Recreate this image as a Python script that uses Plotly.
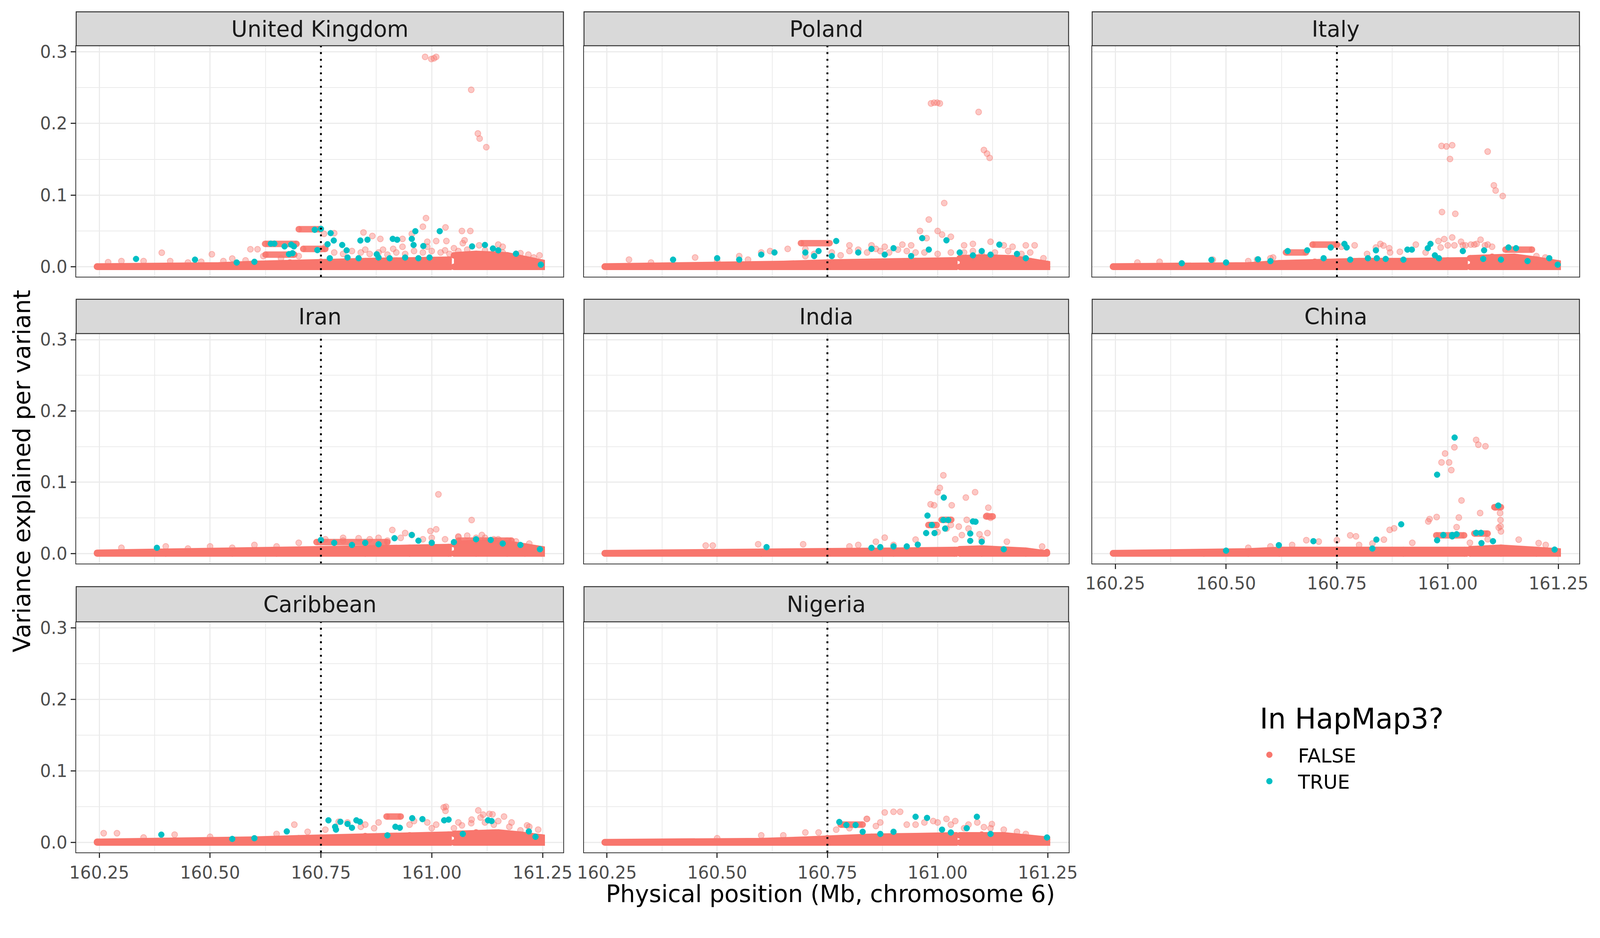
import plotly.graph_objects as go

FONT = "DejaVu Sans"
SALMON = "#F8766D"
TEAL = "#00BFC4"

PANELS = ["United Kingdom", "Poland", "Italy", "Iran", "India", "China", "Caribbean", "Nigeria"]
X_TICKS = [160.25, 160.50, 160.75, 161.00, 161.25]
X_TICK_TEXT = ["160.25", "160.50", "160.75", "161.00", "161.25"]
X_MINOR = [160.375, 160.625, 160.875, 161.125]
Y_TICKS = [0.0, 0.1, 0.2, 0.3]
Y_MINOR = [0.05, 0.15, 0.25]
LEAD_SNP = 160.75
BAND_BASE = 0.0

# ---- United Kingdom ----
uk_band_x = [160.245, 160.40, 160.52, 160.60, 160.68, 160.75, 160.85, 160.95, 161.038, None, 161.050, 161.10, 161.17, 161.21, 161.248]
uk_band_top = [0.0005, 0.001, 0.002, 0.004, 0.006, 0.007, 0.008, 0.009, 0.010, None, 0.016, 0.018, 0.016, 0.010, 0.006]
uk_blocks = [(160.700, 160.748, 0.0525), (160.624, 160.695, 0.032), (160.710, 160.760, 0.025), (160.625, 160.690, 0.017)]
uk_false_x = [160.985, 160.999, 161.005, 161.010, 161.089, 161.104, 161.108, 161.123, 160.987, 160.980, 161.031, 161.068,
              161.087, 160.757, 160.780, 160.846, 160.866, 160.884, 160.934, 160.955, 161.070, 161.074, 161.033, 161.010,
              160.990, 161.150, 161.160, 161.107, 160.934, 160.913, 160.890, 160.850, 160.760, 160.607, 160.591, 160.504,
              160.391, 160.550, 160.620, 160.530, 160.270, 160.300, 160.350, 160.410, 161.218, 161.243, 161.200, 161.140,
              161.050, 161.030, 160.990, 160.780, 160.800, 160.820, 160.840, 160.860, 160.880, 160.900, 160.920, 160.940,
              160.960, 160.980, 161.000, 161.020, 161.040, 160.700, 160.660, 160.580, 160.450, 160.480, 161.060, 161.080,
              161.120, 161.160, 161.190, 161.230]
uk_false_y = [0.293, 0.290, 0.291, 0.293, 0.247, 0.186, 0.179, 0.167, 0.068, 0.056, 0.055, 0.050,
              0.050, 0.046, 0.047, 0.048, 0.043, 0.039, 0.039, 0.046, 0.033, 0.037, 0.036, 0.036,
              0.035, 0.031, 0.028, 0.030, 0.028, 0.025, 0.024, 0.024, 0.028, 0.0245, 0.0245, 0.0175,
              0.0197, 0.0115, 0.015, 0.008, 0.0065, 0.008, 0.008, 0.008, 0.017, 0.016, 0.019, 0.021,
              0.026, 0.023, 0.028, 0.020, 0.018, 0.022, 0.020, 0.018, 0.020, 0.017, 0.020, 0.018,
              0.022, 0.020, 0.022, 0.020, 0.018, 0.015, 0.012, 0.009, 0.006, 0.007, 0.022, 0.024,
              0.023, 0.020, 0.017, 0.013]
uk_true_x = [160.333, 160.466, 160.637, 160.645, 160.668, 160.683, 160.689, 160.678, 160.686, 160.742, 160.736, 160.750,
             160.772, 160.779, 160.798, 160.808, 160.839, 160.855, 160.912, 160.922, 160.955, 160.963, 160.959, 160.981,
             161.018, 161.091, 161.120, 161.138, 161.150, 161.190, 161.246, 160.765, 160.876, 160.770, 160.810, 160.835,
             160.880, 160.905, 160.940, 160.970, 160.995, 160.560, 160.600]
uk_true_y = [0.011, 0.010, 0.0323, 0.0323, 0.0285, 0.031, 0.0285, 0.0177, 0.019, 0.0233, 0.0517, 0.053,
             0.047, 0.0367, 0.0305, 0.023, 0.0367, 0.0378, 0.039, 0.0378, 0.039, 0.0497, 0.0305, 0.029,
             0.0497, 0.0285, 0.0305, 0.0256, 0.023, 0.0183, 0.003, 0.0315, 0.0175, 0.012, 0.013, 0.012,
             0.013, 0.012, 0.013, 0.012, 0.013, 0.006, 0.007]

# ---- Poland ----
pl_band_x = [160.245, 160.40, 160.55, 160.65, 160.75, 160.85, 160.95, 161.038, None, 161.050, 161.10, 161.17, 161.21, 161.248]
pl_band_top = [0.0005, 0.001, 0.002, 0.004, 0.006, 0.007, 0.008, 0.009, None, 0.012, 0.013, 0.012, 0.008, 0.004]
pl_blocks = [(160.690, 160.755, 0.033)]
pl_false_x = [160.985, 160.992, 160.999, 161.005, 161.093, 161.105, 161.112, 161.118, 161.015, 160.980, 161.000, 160.960,
              161.010, 160.975, 161.030, 161.080, 161.120, 161.150, 161.170, 161.200, 161.220, 160.850, 160.880, 160.920,
              160.940, 160.800, 160.660, 160.600, 160.550, 160.450, 160.300, 160.620, 160.700, 161.060, 161.240,
              160.800, 160.820, 160.840, 160.860, 160.870, 160.890, 160.910, 160.930, 160.950, 161.060, 161.080, 161.100,
              161.130, 161.160, 161.190, 160.700, 160.720, 160.760, 160.780, 161.030, 161.000, 160.970, 161.210, 160.570,
              160.500, 160.350]
pl_false_y = [0.228, 0.229, 0.229, 0.228, 0.216, 0.163, 0.158, 0.152, 0.089, 0.066, 0.050, 0.050,
              0.045, 0.040, 0.042, 0.032, 0.035, 0.030, 0.028, 0.030, 0.030, 0.030, 0.028, 0.031,
              0.030, 0.030, 0.025, 0.020, 0.015, 0.013, 0.010, 0.022, 0.025, 0.030, 0.012,
              0.022, 0.024, 0.020, 0.025, 0.022, 0.020, 0.024, 0.022, 0.020, 0.020, 0.022, 0.018,
              0.020, 0.022, 0.018, 0.015, 0.018, 0.020, 0.016, 0.020, 0.018, 0.020, 0.020, 0.010,
              0.008, 0.006]
pl_true_x = [160.965, 161.020, 161.140, 160.770, 160.730, 160.630, 160.600, 160.500, 160.400, 160.850, 160.900, 161.050,
             161.100, 160.820, 160.980, 161.180, 160.700, 160.720, 160.760, 160.880, 160.940, 161.080, 161.120, 161.200,
             160.550]
pl_true_y = [0.040, 0.037, 0.031, 0.036, 0.022, 0.020, 0.017, 0.012, 0.010, 0.025, 0.026, 0.020,
             0.022, 0.020, 0.024, 0.018, 0.020, 0.015, 0.015, 0.017, 0.015, 0.016, 0.017, 0.012,
             0.010]

# ---- Italy ----
it_band_x = [160.245, 160.40, 160.55, 160.62, 160.70, 160.80, 160.90, 161.00, 161.038, None, 161.050, 161.10, 161.15, 161.20, 161.248]
it_band_top = [0.0005, 0.001, 0.002, 0.005, 0.007, 0.008, 0.008, 0.009, 0.009, None, 0.012, 0.014, 0.014, 0.010, 0.005]
it_blocks = [(160.695, 160.750, 0.031), (160.635, 160.680, 0.020), (161.130, 161.190, 0.024)]
it_false_x = [160.986, 160.997, 161.010, 161.005, 161.090, 161.104, 161.108, 161.124, 160.987, 161.017, 161.010, 160.992,
              160.979, 161.074, 161.030, 160.928, 160.848, 160.855, 160.838, 160.790, 160.760, 160.870, 160.950, 161.000,
              161.040, 161.060, 161.090, 161.100, 161.200, 161.220, 160.600, 160.570, 160.470, 160.350, 160.300, 160.550,
              161.052, 161.065, 161.084, 161.034, 161.015, 160.984, 160.868, 160.892, 160.818, 160.606]
it_false_y = [0.1687, 0.168, 0.1697, 0.1505, 0.1608, 0.1137, 0.1065, 0.0988, 0.0765, 0.074, 0.041, 0.0387,
              0.036, 0.0379, 0.035, 0.031, 0.032, 0.0297, 0.027, 0.030, 0.028, 0.020, 0.020, 0.030,
              0.030, 0.031, 0.031, 0.028, 0.015, 0.013, 0.012, 0.010, 0.010, 0.007, 0.006, 0.008,
              0.031, 0.032, 0.030, 0.030, 0.030, 0.027, 0.026, 0.021, 0.018, 0.013]
it_true_x = [160.736, 160.767, 160.772, 160.683, 160.639, 160.909, 160.919, 160.961, 160.955, 161.082, 161.137, 161.154,
             161.034, 160.971, 161.229, 161.248, 160.572, 160.467, 160.838, 160.400, 160.500, 160.600, 160.720, 160.780,
             160.820, 160.840, 160.860, 160.900, 160.980, 161.080, 161.120, 161.180]
it_true_y = [0.027, 0.032, 0.027, 0.023, 0.022, 0.024, 0.024, 0.032, 0.026, 0.023, 0.027, 0.026,
             0.022, 0.016, 0.012, 0.003, 0.0105, 0.0097, 0.023, 0.005, 0.006, 0.008, 0.012, 0.010,
             0.012, 0.012, 0.011, 0.010, 0.012, 0.011, 0.010, 0.008]

# ---- Iran ----
ir_band_x = [160.245, 160.40, 160.55, 160.65, 160.75, 160.85, 160.95, 161.038, None, 161.050, 161.10, 161.17, 161.21, 161.248]
ir_band_top = [0.001, 0.002, 0.003, 0.004, 0.006, 0.007, 0.008, 0.009, None, 0.013, 0.015, 0.014, 0.010, 0.006]
ir_blocks = [(160.740, 160.900, 0.016), (161.060, 161.180, 0.018)]
ir_false_x = [161.015, 161.090, 160.911, 160.955, 160.997, 161.010, 160.835, 160.940, 161.113, 161.120, 161.140, 161.170,
              160.700, 160.600, 160.500, 160.400, 160.300, 160.980, 161.000, 161.030, 160.880, 160.800, 161.060, 161.220,
              160.760, 160.800, 160.860, 160.900, 160.930, 161.060, 161.080, 161.100, 161.150, 161.190, 160.550, 160.650,
              160.450]
ir_false_y = [0.083, 0.047, 0.033, 0.026, 0.0315, 0.034, 0.0215, 0.0287, 0.026, 0.022, 0.020, 0.018,
              0.015, 0.012, 0.010, 0.010, 0.008, 0.020, 0.022, 0.020, 0.022, 0.018, 0.024, 0.014,
              0.020, 0.022, 0.020, 0.018, 0.022, 0.023, 0.025, 0.022, 0.020, 0.017, 0.008, 0.010,
              0.007]
ir_true_x = [160.380, 160.750, 160.780, 160.916, 160.955, 161.133, 161.244, 160.850, 161.050, 161.100, 160.970, 161.200,
             160.820, 160.880, 161.000, 161.160]
ir_true_y = [0.008, 0.019, 0.015, 0.0215, 0.026, 0.019, 0.006, 0.015, 0.016, 0.020, 0.018, 0.012,
             0.012, 0.013, 0.015, 0.014]

# ---- India ----
in_band_x = [160.245, 160.50, 160.60, 160.75, 160.90, 161.038, None, 161.050, 161.10, 161.20, 161.248]
in_band_top = [0.0005, 0.001, 0.002, 0.003, 0.004, 0.005, None, 0.006, 0.007, 0.004, 0.002]
in_blocks = [(160.979, 160.998, 0.040), (161.009, 161.031, 0.0473), (161.110, 161.125, 0.052)]
in_false_x = [161.013, 161.005, 161.000, 161.085, 161.064, 160.984, 160.992, 161.032, 161.115, 161.112, 161.120, 161.066,
              161.048, 161.055, 161.095, 161.113, 160.880, 160.860, 160.950, 161.157, 160.593, 160.474, 160.490, 160.695,
              161.237, 161.040, 161.070, 161.100, 160.800, 160.820, 160.900, 161.000, 161.020, 161.030]
in_false_y = [0.1097, 0.0921, 0.0861, 0.0861, 0.0785, 0.069, 0.0677, 0.0677, 0.0643, 0.0532, 0.050, 0.0473,
              0.0378, 0.0259, 0.027, 0.0287, 0.0223, 0.0166, 0.0196, 0.0166, 0.013, 0.0112, 0.0112, 0.013,
              0.0098, 0.020, 0.035, 0.020, 0.010, 0.012, 0.012, 0.030, 0.035, 0.040]
in_true_x = [161.014, 160.977, 161.013, 161.024, 161.086, 160.987, 161.017, 160.974, 160.993, 161.074, 161.074, 161.100,
             160.955, 160.612, 161.080, 160.850, 160.870, 160.900, 160.930, 161.150]
in_true_y = [0.0785, 0.0532, 0.047, 0.047, 0.0446, 0.040, 0.035, 0.0287, 0.0287, 0.028, 0.0178, 0.0165,
             0.0125, 0.009, 0.045, 0.008, 0.009, 0.010, 0.010, 0.006]

# ---- China ----
cn_band_x = [160.245, 160.45, 160.55, 160.62, 160.75, 160.90, 161.038, None, 161.050, 161.12, 161.20, 161.248]
cn_band_top = [0.0005, 0.001, 0.003, 0.005, 0.005, 0.005, 0.005, None, 0.006, 0.008, 0.005, 0.003]
cn_blocks = [(160.974, 161.037, 0.0255), (161.060, 161.090, 0.028), (161.105, 161.120, 0.065)]
cn_false_x = [161.015, 160.994, 160.986, 161.003, 161.008, 161.064, 161.069, 161.085, 161.031, 161.107, 161.112, 161.073,
              161.118, 161.119, 161.119, 161.115, 161.120, 161.025, 160.975, 160.956, 160.959, 160.869, 160.879, 161.020,
              160.856, 160.709, 160.780, 160.793, 160.750, 160.681, 160.649, 161.160, 161.205, 161.221, 161.090, 161.050,
              160.920, 160.600, 160.550, 160.800, 160.830]
cn_false_y = [0.149, 0.1403, 0.1278, 0.1278, 0.117, 0.1594, 0.1526, 0.1505, 0.0744, 0.0644, 0.066, 0.0568,
              0.0568, 0.047, 0.0383, 0.0363, 0.031, 0.0505, 0.0512, 0.045, 0.0484, 0.0332, 0.0354, 0.037,
              0.0195, 0.0168, 0.0255, 0.0241, 0.0187, 0.0187, 0.012, 0.0195, 0.0146, 0.012, 0.020, 0.015,
              0.015, 0.010, 0.008, 0.012, 0.014]
cn_true_x = [161.0155, 160.976, 161.114, 160.895, 160.839, 160.697, 160.990, 161.010, 161.020, 161.064, 161.075, 160.976,
             161.010, 161.076, 161.102, 160.619, 161.241, 160.830, 160.500]
cn_true_y = [0.1627, 0.1106, 0.0673, 0.041, 0.0195, 0.0173, 0.026, 0.026, 0.027, 0.029, 0.029, 0.0186,
             0.024, 0.0146, 0.0173, 0.0117, 0.0055, 0.007, 0.004]

# ---- Caribbean ----
ca_band_x = [160.245, 160.45, 160.60, 160.70, 160.75, 160.85, 160.95, 161.038, None, 161.050, 161.10, 161.15, 161.20, 161.248]
ca_band_top = [0.001, 0.002, 0.004, 0.006, 0.007, 0.009, 0.010, 0.011, None, 0.012, 0.014, 0.014, 0.011, 0.007]
ca_blocks = [(160.898, 160.930, 0.0363)]
ca_false_x = [161.027, 161.032, 161.031, 161.105, 161.116, 161.137, 161.163, 160.690, 161.068, 161.089, 161.140, 161.175,
              161.215, 160.260, 160.290, 160.420, 160.790, 160.810, 160.850, 160.870, 160.950, 161.000, 161.050, 161.120,
              161.200, 161.240, 160.960, 160.990, 161.010, 161.060, 161.090, 161.110, 161.130, 161.150, 161.180, 161.220,
              160.880, 160.840, 160.760, 160.720, 160.650, 160.500, 160.350]
ca_false_y = [0.0491, 0.050, 0.0442, 0.0448, 0.039, 0.0394, 0.0363, 0.025, 0.024, 0.027, 0.025, 0.022,
              0.024, 0.013, 0.013, 0.011, 0.029, 0.028, 0.025, 0.020, 0.025, 0.020, 0.020, 0.028,
              0.017, 0.018, 0.030, 0.028, 0.025, 0.028, 0.032, 0.035, 0.040, 0.030, 0.028, 0.022,
              0.028, 0.022, 0.018, 0.015, 0.012, 0.008, 0.007]
ca_true_x = [160.767, 160.794, 160.810, 160.782, 160.830, 160.838, 160.956, 160.979, 161.028, 161.038, 160.918, 160.928,
             160.673, 161.127, 161.135, 161.219, 161.234, 160.390, 160.820, 160.784, 160.600, 160.550, 160.900, 161.070]
ca_true_y = [0.031, 0.029, 0.026, 0.022, 0.031, 0.029, 0.034, 0.0327, 0.031, 0.032, 0.022, 0.0206,
             0.0155, 0.031, 0.030, 0.0155, 0.008, 0.011, 0.0206, 0.018, 0.006, 0.005, 0.010, 0.012]

# ---- Nigeria ----
ng_band_x = [160.245, 160.45, 160.60, 160.70, 160.75, 160.85, 160.95, 161.038, None, 161.050, 161.10, 161.15, 161.20, 161.248]
ng_band_top = [0.0005, 0.001, 0.002, 0.004, 0.006, 0.008, 0.009, 0.010, None, 0.010, 0.011, 0.010, 0.007, 0.004]
ng_blocks = [(160.780, 160.830, 0.025)]
ng_false_x = [160.900, 160.915, 160.880, 160.839, 160.860, 161.020, 161.040, 161.105, 161.123, 160.990, 161.000, 160.800,
              160.700, 160.600, 161.150, 161.200, 160.930, 161.060, 160.840, 160.870, 160.950, 160.970, 161.030, 161.070,
              161.090, 161.120, 161.180, 160.770, 160.730, 160.650, 160.500]
ng_false_y = [0.043, 0.043, 0.042, 0.033, 0.023, 0.033, 0.030, 0.0215, 0.0258, 0.030, 0.028, 0.020,
              0.014, 0.010, 0.018, 0.012, 0.025, 0.020, 0.033, 0.028, 0.025, 0.028, 0.025, 0.025,
              0.028, 0.020, 0.015, 0.018, 0.014, 0.010, 0.006]
ng_true_x = [160.950, 160.976, 161.089, 160.777, 160.793, 160.814, 161.248, 161.066, 160.900, 161.010, 160.830, 160.870,
             161.030, 161.120]
ng_true_y = [0.036, 0.0344, 0.036, 0.0287, 0.0244, 0.0244, 0.007, 0.020, 0.015, 0.018, 0.015, 0.012,
             0.014, 0.012]

PANEL_DATA = {
    "United Kingdom": (uk_band_x, uk_band_top, uk_blocks, uk_false_x, uk_false_y, uk_true_x, uk_true_y),
    "Poland": (pl_band_x, pl_band_top, pl_blocks, pl_false_x, pl_false_y, pl_true_x, pl_true_y),
    "Italy": (it_band_x, it_band_top, it_blocks, it_false_x, it_false_y, it_true_x, it_true_y),
    "Iran": (ir_band_x, ir_band_top, ir_blocks, ir_false_x, ir_false_y, ir_true_x, ir_true_y),
    "India": (in_band_x, in_band_top, in_blocks, in_false_x, in_false_y, in_true_x, in_true_y),
    "China": (cn_band_x, cn_band_top, cn_blocks, cn_false_x, cn_false_y, cn_true_x, cn_true_y),
    "Caribbean": (ca_band_x, ca_band_top, ca_blocks, ca_false_x, ca_false_y, ca_true_x, ca_true_y),
    "Nigeria": (ng_band_x, ng_band_top, ng_blocks, ng_false_x, ng_false_y, ng_true_x, ng_true_y),
}

# ---- layout geometry ----
# The page is captured from a 4096-px-wide viewport and scaled up to 4200, so all
# pixel sizes are expressed for a 4200x2400 picture and multiplied by S.
S = 4096 / 4200
W_PX, H_PX = 4200, 2400


def px(v):
    return v * S


COLS = [(0.04762, 0.35214), (0.36500, 0.66786), (0.68262, 0.98714)]
ROWS = [(0.6975, 0.9496), (0.3842, 0.6350), (0.0683, 0.3200)]
STRIPS = [(0.9500, 0.9871), (0.6354, 0.6729), (0.3204, 0.3588)]
X_RANGE = [160.198, 161.297]
Y_RANGE = [-0.0139, 0.308]
X_LABELLED = {"China", "Caribbean", "Nigeria"}
Y_LABELLED = {"United Kingdom", "Iran", "Caribbean"}

MARK = px(15.5)
BAND_W = px(17)

fig = go.Figure()
shapes = []
annotations = []

for i, name in enumerate(PANELS):
    r, c = divmod(i, 3)
    k = i + 1
    xa = "x" if k == 1 else f"x{k}"
    ya = "y" if k == 1 else f"y{k}"
    band_x, band_top, blocks, fx, fy, tx, ty = PANEL_DATA[name]

    # dense band of overlapping FALSE variants (drawn as filled envelope)
    bpx, bpy = [], []
    seg_x, seg_t = [], []
    for x, t in zip(band_x + [None], band_top + [None]):
        if x is None:
            if seg_x:
                bpx += seg_x + seg_x[::-1] + [None]
                bpy += seg_t + [BAND_BASE] * len(seg_x) + [None]
            seg_x, seg_t = [], []
        else:
            seg_x.append(x)
            seg_t.append(t)
    fig.add_trace(go.Scatter(x=bpx, y=bpy, xaxis=xa, yaxis=ya, mode="lines+markers", fill="toself",
                             fillcolor=SALMON, line=dict(color=SALMON, width=BAND_W),
                             marker=dict(color=SALMON, size=BAND_W), showlegend=False, hoverinfo="skip"))

    # runs of overlapping FALSE variants in LD blocks
    bx, by = [], []
    for x0, x1, yv in blocks:
        bx += [x0, x1, None]
        by += [yv, yv, None]
    fig.add_trace(go.Scatter(x=bx, y=by, xaxis=xa, yaxis=ya, mode="lines+markers",
                             line=dict(color="rgba(248,118,109,0.9)", width=BAND_W),
                             marker=dict(color="rgba(248,118,109,0.9)", size=BAND_W),
                             showlegend=False, hoverinfo="skip"))

    fig.add_trace(go.Scatter(x=fx, y=fy, xaxis=xa, yaxis=ya, mode="markers",
                             marker=dict(color="rgba(248,118,109,0.4)", size=MARK,
                                         line=dict(color="rgba(248,118,109,0.45)", width=px(2))),
                             showlegend=False, name="FALSE"))
    fig.add_trace(go.Scatter(x=tx, y=ty, xaxis=xa, yaxis=ya, mode="markers",
                             marker=dict(color=TEAL, size=MARK, line=dict(color=TEAL, width=px(1))),
                             showlegend=False, name="TRUE"))

    xlab = name in X_LABELLED
    ylab = name in Y_LABELLED
    axis_common = dict(showline=True, mirror=True, linecolor="#333333", linewidth=px(2.5), zeroline=False,
                       showgrid=True, gridcolor="#EBEBEB", gridwidth=px(3.5), automargin=False,
                       tickfont=dict(family=FONT, size=px(45), color="#4D4D4D"),
                       tickcolor="#333333", tickwidth=px(3), ticklen=px(12))
    fig.update_layout({
        ("xaxis" if k == 1 else f"xaxis{k}"): dict(
            axis_common, domain=list(COLS[c]), anchor=ya, range=X_RANGE,
            tickmode="array", tickvals=X_TICKS, ticktext=X_TICK_TEXT,
            showticklabels=xlab, ticks="outside" if xlab else "",
            minor=dict(tickvals=X_MINOR, showgrid=True, gridcolor="#EBEBEB", gridwidth=px(1.8))),
        ("yaxis" if k == 1 else f"yaxis{k}"): dict(
            axis_common, domain=list(ROWS[r]), anchor=xa, range=Y_RANGE,
            tickmode="array", tickvals=Y_TICKS, tickformat=".1f",
            showticklabels=ylab, ticks="outside" if ylab else "",
            minor=dict(tickvals=Y_MINOR, showgrid=True, gridcolor="#EBEBEB", gridwidth=px(1.8))),
    })

    shapes.append(dict(type="line", xref=xa, yref=ya, x0=LEAD_SNP, x1=LEAD_SNP, y0=Y_RANGE[0], y1=Y_RANGE[1],
                       line=dict(color="black", width=px(5), dash=f"{px(5):.2f}px,{px(12.7):.2f}px"),
                       layer="above"))
    s0, s1 = STRIPS[r]
    shapes.append(dict(type="rect", xref="paper", yref="paper", x0=COLS[c][0], x1=COLS[c][1], y0=s0, y1=s1,
                       fillcolor="#D9D9D9", line=dict(color="#333333", width=px(2.5)), layer="above"))
    annotations.append(dict(text=name, xref="paper", yref="paper", x=(COLS[c][0] + COLS[c][1]) / 2,
                            y=(s0 + s1) / 2, xanchor="center", yanchor="middle", showarrow=False,
                            font=dict(family=FONT, size=px(58), color="#1A1A1A")))

# legend entries
fig.add_trace(go.Scatter(x=[None], y=[None], mode="markers", name="FALSE",
                         marker=dict(color=SALMON, size=px(19))))
fig.add_trace(go.Scatter(x=[None], y=[None], mode="markers", name="TRUE",
                         marker=dict(color=TEAL, size=px(19))))

annotations.append(dict(text="Variance explained per variant", xref="paper", yref="paper", x=57 / W_PX, y=0.485,
                        textangle=-90, xanchor="center", yanchor="middle", showarrow=False,
                        font=dict(family=FONT, size=px(62), color="black")))
annotations.append(dict(text="Physical position (Mb, chromosome 6)", xref="paper", yref="paper", x=0.519,
                        y=1 - 2345 / H_PX, xanchor="center", yanchor="middle", showarrow=False,
                        font=dict(family=FONT, size=px(62), color="black")))
annotations.append(dict(text="In HapMap3?", xref="paper", yref="paper", x=3305 / W_PX, y=1 - 1885 / H_PX,
                        xanchor="left", yanchor="middle", showarrow=False,
                        font=dict(family=FONT, size=px(74), color="black")))

fig.update_layout(
    width=round(W_PX * S), height=round(H_PX * S), margin=dict(l=0, r=0, t=0, b=0),
    paper_bgcolor="white", plot_bgcolor="white",
    font=dict(family=FONT),
    shapes=shapes, annotations=annotations,
    showlegend=True,
    legend=dict(x=3257 / W_PX, y=1 - 1940 / H_PX, xanchor="left", yanchor="top",
                font=dict(family=FONT, size=px(51), color="black"),
                bgcolor="rgba(0,0,0,0)", itemwidth=px(140), tracegroupgap=0),
)

fig.write_html(
    "out.html",
    config=dict(displayModeBar=False),
    post_script="document.body.style.margin='0';document.body.style.overflow='hidden';"
                "document.documentElement.style.overflow='hidden';",
)
